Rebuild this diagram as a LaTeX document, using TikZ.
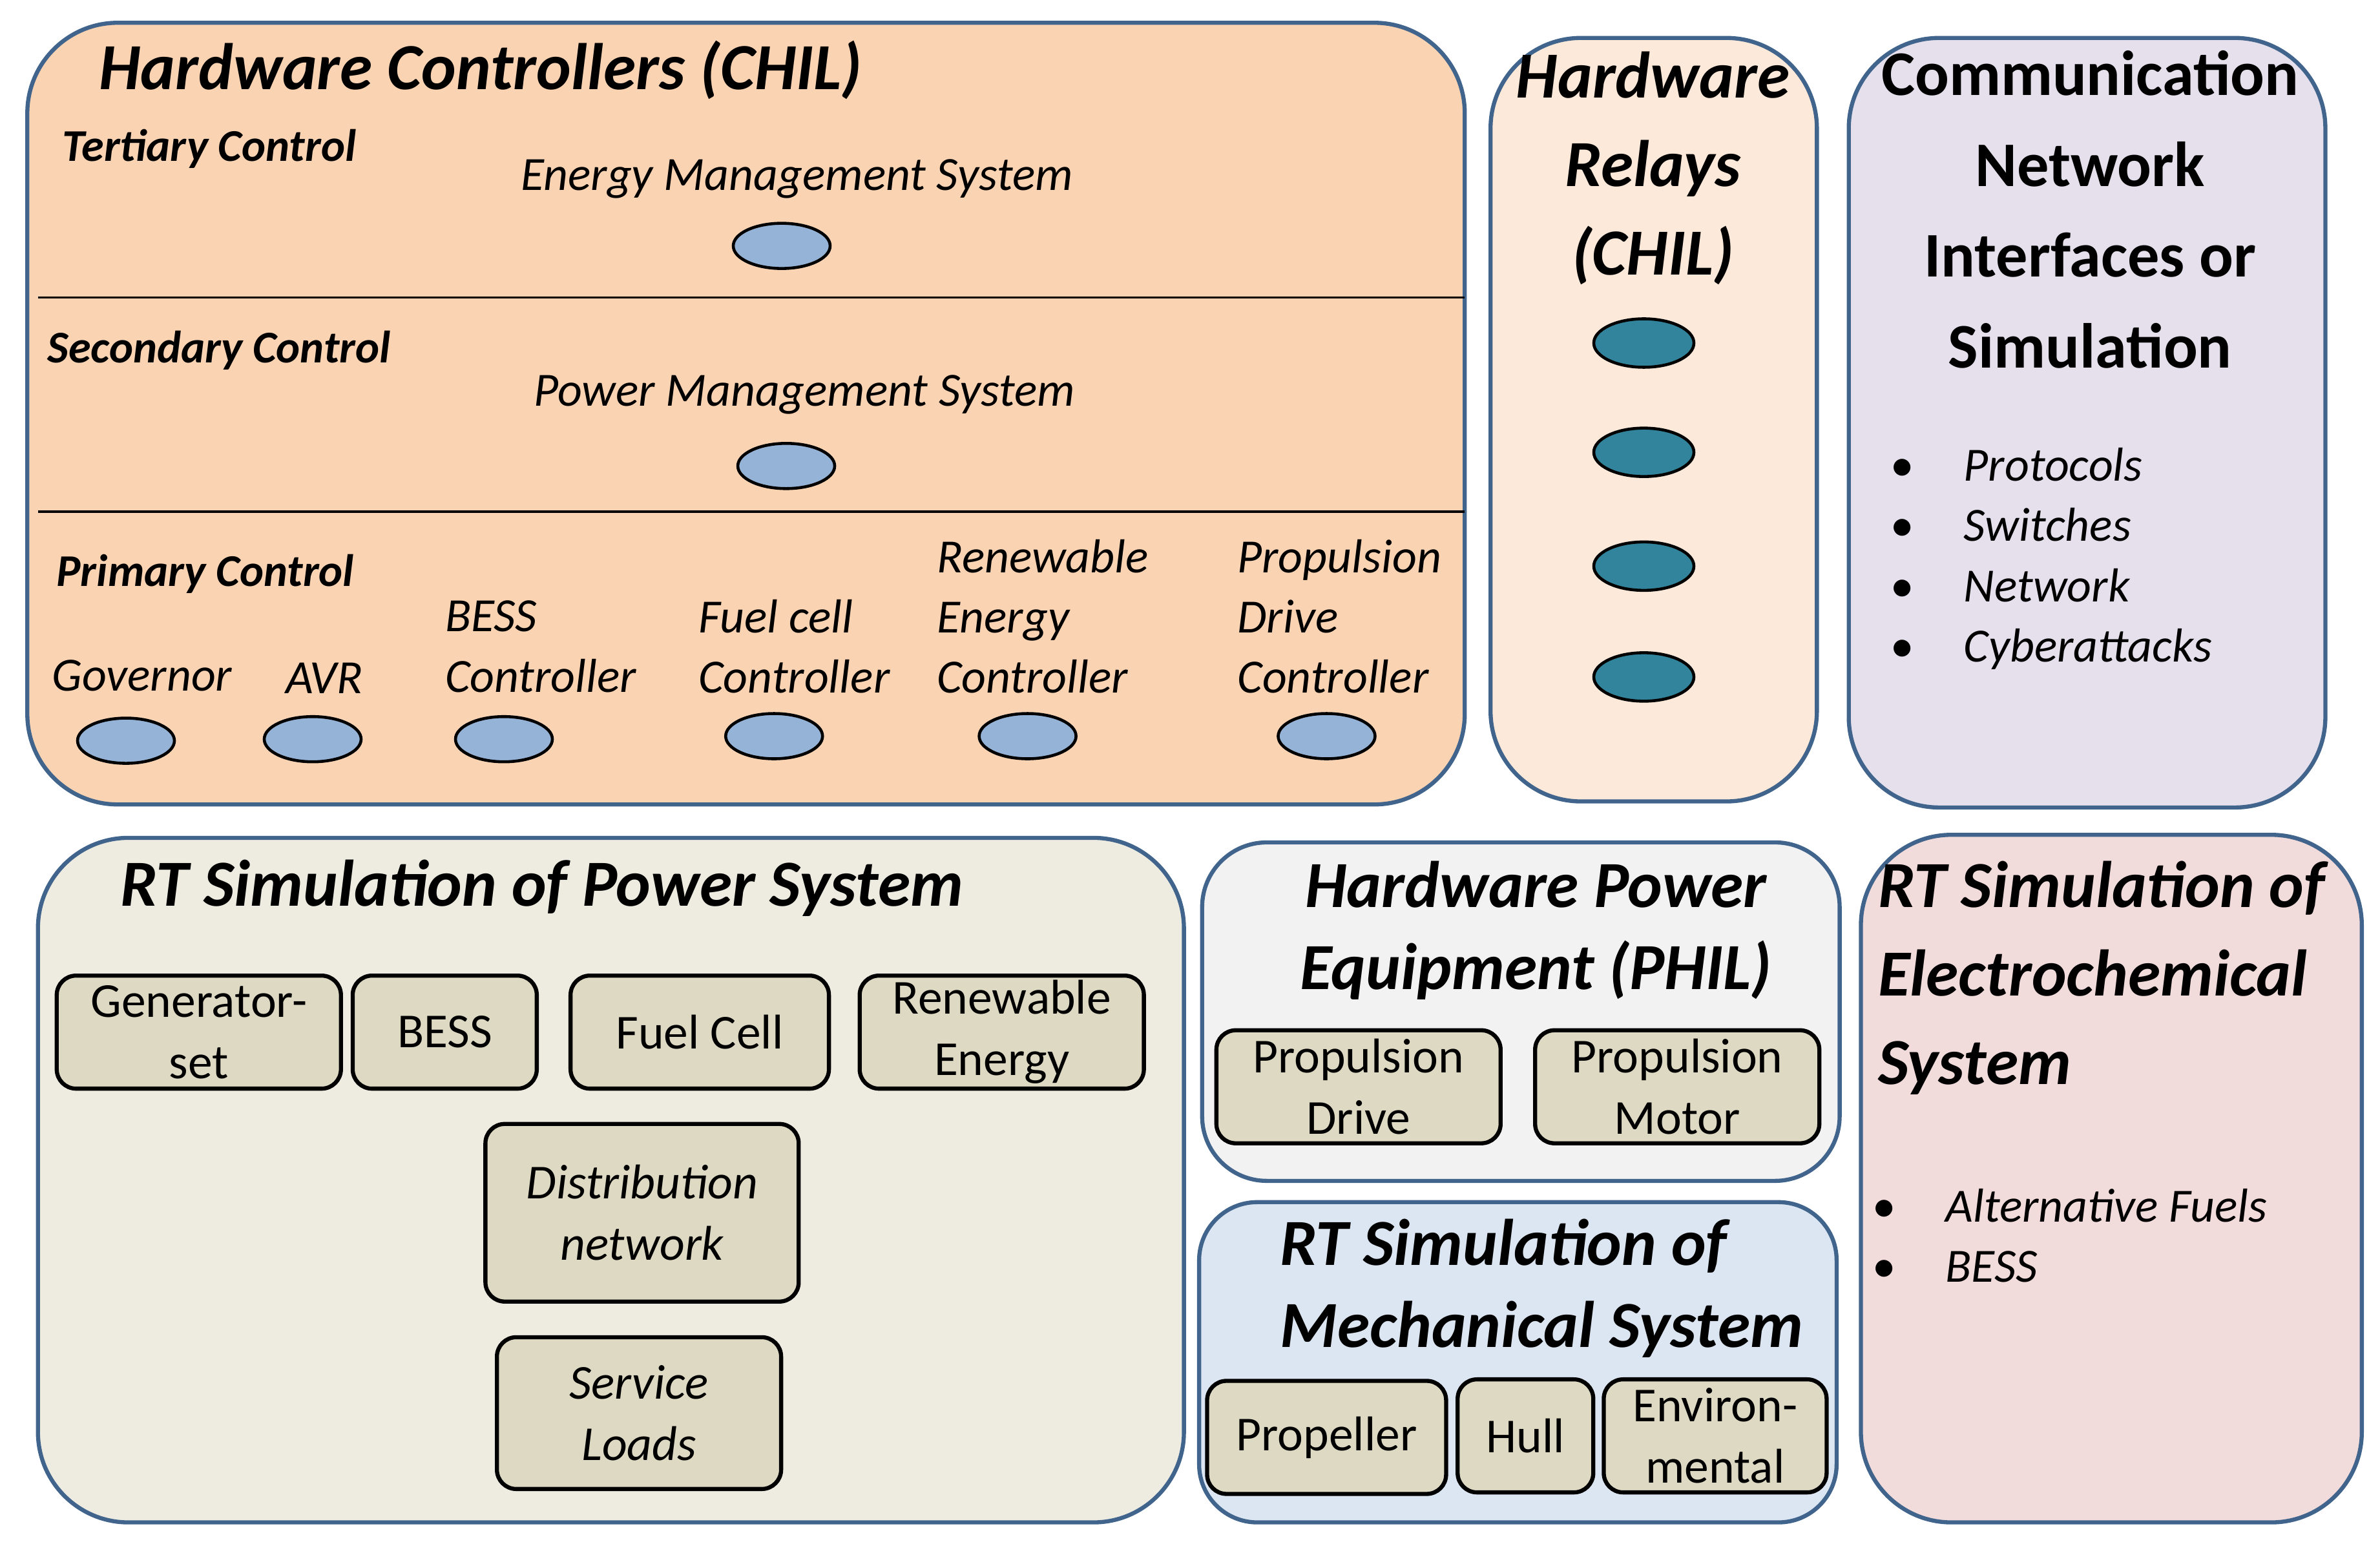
\documentclass[tikz,border=0pt]{standalone}
\usepackage{fontspec}
\usetikzlibrary{shapes.geometric}
\setmainfont{Carlito}
\definecolor{bd}{HTML}{41648C}
\definecolor{peach}{HTML}{FAD3B3}
\definecolor{relay}{HTML}{FDE9D9}
\definecolor{comm}{HTML}{E5E0EC}
\definecolor{pow}{HTML}{EEECE1}
\definecolor{phil}{HTML}{F2F2F2}
\definecolor{mech}{HTML}{DCE6F2}
\definecolor{elec}{HTML}{F2DCDB}
\definecolor{ell}{HTML}{95B3D7}
\definecolor{teal}{HTML}{31849B}
\definecolor{inb}{HTML}{DDD9C3}
\begin{document}
\begin{tikzpicture}[x=0.0235cm,y=-0.0235cm,
 panel/.style={draw=bd,line width=1.8pt,rounded corners=1.4cm},
 ctl/.style={ellipse,draw=black,line width=1.3pt,fill=ell,minimum width=1.5cm,minimum height=0.7cm,inner sep=0},
 rel/.style={ellipse,draw=black,line width=1.3pt,fill=teal,minimum width=1.55cm,minimum height=0.75cm,inner sep=0},
 inbox/.style={draw=black,line width=1.8pt,fill=inb,rounded corners=0.3cm,align=center,font=\fontsize{21.5}{27}\selectfont,inner sep=0},
 ttl/.style={font=\fontsize{29}{36}\selectfont\bfseries\itshape,align=center},
 lvl/.style={font=\fontsize{20}{24}\selectfont\bfseries\itshape,anchor=west},
 lab/.style={font=\fontsize{21}{26.5}\selectfont\itshape,align=left}]
\useasboundingbox (0,0) rectangle (1568,1017);
% panels
\draw[panel,fill=peach] (18,15) rectangle (965,530);
\draw[panel,fill=relay] (982,25) rectangle (1197,528);
\draw[panel,fill=comm] (1218,25) rectangle (1532,532);
\draw[panel,fill=pow] (25,552) rectangle (780,1003);
\draw[panel,fill=phil,rounded corners=1cm] (792,555) rectangle (1212,778);
\draw[panel,fill=mech,rounded corners=0.9cm] (790,792) rectangle (1210,1003);
\draw[panel,fill=elec] (1226,550) rectangle (1556,1003);
\coordinate (l1a) at (25,196); \coordinate (l1b) at (965,196);
\coordinate (l2a) at (25,337); \coordinate (l2b) at (965,337);
\draw[line width=1pt] (l1a)--(l1b);
\draw[line width=1pt] (l2a)--(l2b);
% hardware controllers
\node[ttl,anchor=west] (t1) at (60,46) {Hardware Controllers (CHIL)};
\node[lvl] (v3) at (36,98) {Tertiary Control};
\node[lvl] (v2) at (26,231) {Secondary Control};
\node[lvl] (v1) at (32,378) {Primary Control};
\node[lab] (ems) at (525,118) {Energy Management System};
\node[ctl] (e1) at (515,162) {};
\node[lab] (pms) at (530,260) {Power Management System};
\node[ctl] (e2) at (518,307) {};
\node[lab,anchor=west] (g) at (29,445) {Governor};
\node[lab,anchor=west] (a) at (183,447) {AVR};
\node[lab,anchor=west] (b) at (288,426) {BESS\\Controller};
\node[lab,anchor=west] (f) at (455,426) {Fuel cell\\Controller};
\node[lab,anchor=west] (r) at (612,406) {Renewable\\Energy\\Controller};
\node[lab,anchor=west] (p) at (810,406) {Propulsion\\Drive\\Controller};
\node[ctl] (c1) at (83,488) {};
\node[ctl] (c2) at (206,487) {};
\node[ctl] (c3) at (332,487) {};
\node[ctl] (c4) at (510,485) {};
\node[ctl] (c5) at (677,485) {};
\node[ctl] (c6) at (874,485) {};
% relays
\node[ttl,font=\fontsize{29}{39}\selectfont\bfseries\itshape] (t2) at (1089,111) {Hardware\\Relays\\(CHIL)};
\node[rel] (r1) at (1083,226) {};
\node[rel] (r2) at (1083,298) {};
\node[rel] (r3) at (1083,373) {};
\node[rel] (r4) at (1083,446) {};
% communication
\node[font=\fontsize{28}{40}\selectfont\bfseries,align=center] (t3) at (1377,138) {Communication\\Network\\Interfaces or\\Simulation};
\node[lab,anchor=north west] (cl) at (1240,284) {%
\begin{tabular}{@{}l@{\hspace{22pt}}l@{}}\textbullet&Protocols\\\textbullet&Switches\\\textbullet&Network\\\textbullet&Cyberattacks\end{tabular}};
% power system
\node[ttl,anchor=west] (t4) at (74,585) {RT Simulation of Power System};
\node[inbox,minimum width=4.4cm,minimum height=1.75cm] (b1) at (131,680) {Generator-\\set};
\node[inbox,minimum width=2.85cm,minimum height=1.75cm] (b2) at (293,680) {BESS};
\node[inbox,minimum width=4.0cm,minimum height=1.75cm] (b3) at (461,680) {Fuel Cell};
\node[inbox,minimum width=4.4cm,minimum height=1.75cm] (b4) at (660,680) {Renewable\\Energy};
\node[inbox,minimum width=4.85cm,minimum height=2.75cm,font=\fontsize{21.5}{27}\selectfont\itshape] (b5) at (423,799) {Distribution\\network};
\node[inbox,minimum width=4.4cm,minimum height=2.35cm,font=\fontsize{21.5}{27}\selectfont\itshape] (b6) at (421,931) {Service\\Loads};
% PHIL
\node[ttl] (t5) at (1012,613) {Hardware Power\\Equipment (PHIL)};
\node[inbox,minimum width=4.4cm,minimum height=1.75cm] (p1) at (895,716) {Propulsion\\Drive};
\node[inbox,minimum width=4.4cm,minimum height=1.75cm] (p2) at (1105,716) {Propulsion\\Motor};
% mechanical
\node[ttl,align=left,anchor=north west] (t6) at (838,798) {RT Simulation of\\Mechanical System};
\node[inbox,minimum width=3.7cm,minimum height=1.75cm] (m1) at (874,947) {Propeller};
\node[inbox,minimum width=2.1cm,minimum height=1.75cm] (m2) at (1005,946) {Hull};
\node[inbox,minimum width=3.45cm,minimum height=1.75cm] (m3) at (1130,946) {Environ-\\mental};
% electrochemical
\node[ttl,align=left,anchor=north west,font=\fontsize{29}{39}\selectfont\bfseries\itshape] (t7) at (1232,562) {RT Simulation of\\Electrochemical\\System};
\node[lab,anchor=north west] (el) at (1228,772) {%
\begin{tabular}{@{}l@{\hspace{22pt}}l@{}}\textbullet&Alternative Fuels\\\textbullet&BESS\end{tabular}};
\end{tikzpicture}
\end{document}
